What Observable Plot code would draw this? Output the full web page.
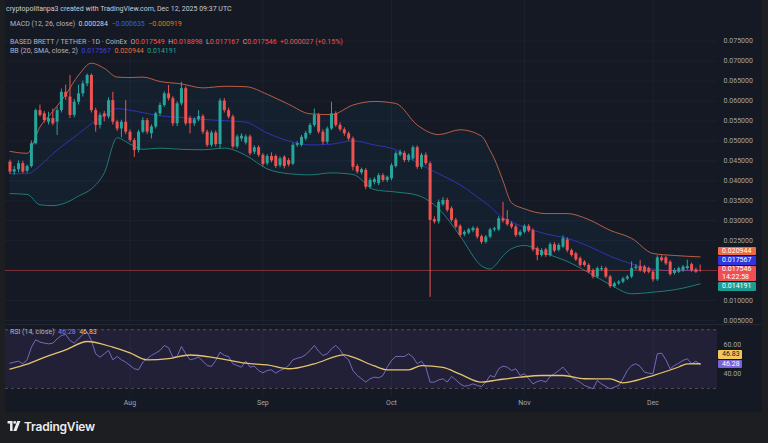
<!DOCTYPE html>
<html><head><meta charset="utf-8">
<script src="https://cdn.jsdelivr.net/npm/d3@7"></script>
<script src="https://cdn.jsdelivr.net/npm/@observablehq/plot@0.6"></script>
<style>
html,body{margin:0;padding:0;background:#1d1e22;width:768px;height:443px;overflow:hidden;font-family:Roboto,"Noto Sans",sans-serif;}
#card{position:absolute;left:5px;top:0;width:757px;height:412px;background:#151924;overflow:hidden;}
.pane{position:absolute;left:0;}
.t{position:absolute;white-space:pre;font-size:7px;line-height:9px;color:#b2b5be;}
.badge{position:absolute;font-size:7px;color:#fff;padding-left:4px;box-sizing:border-box;white-space:pre;border-radius:1px;}
#footer{position:absolute;left:7px;top:418px;height:16px;display:flex;align-items:center;gap:3px;color:#ececec;}
#footer span{font-family:Inter,Roboto,sans-serif;font-weight:600;font-size:12px;letter-spacing:-0.2px;}
</style></head>
<body>
<div id="card">
  <div id="mainPane" class="pane" style="top:0"></div>
  <div id="rsiPane" class="pane" style="top:324px"></div>
  <div class="t" style="left:1px;top:5px;color:#c9ccd4">cryptopolitanpa3 created with TradingView.com, Dec 12, 2025 09:37 UTC</div>
  <div class="t" style="left:5px;top:20px">MACD (12, 26, close)  <span style="color:#d1d4dc">0.000284</span>  <span style="color:#2962ff">−0.000635</span>  <span style="color:#ff6d00">−0.000919</span></div>
  <div class="t" style="left:5px;top:38px">BASED BRETT / TETHER · 1D · CoinEx  O<span style="color:#ef5350">0.017549</span>  H<span style="color:#ef5350">0.018898</span>  L<span style="color:#ef5350">0.017167</span>  C<span style="color:#ef5350">0.017546</span>  <span style="color:#ef5350">+0.000027 (+0.15%)</span></div>
  <div class="t" style="left:5px;top:47px">BB (20, SMA, close, 2)  <span style="color:#3b3fe0">0.017567</span>  <span style="color:#f0683f">0.020944</span>  <span style="color:#22a39a">0.014191</span></div>
  <div class="t" style="left:5px;top:328px">RSI (14, close)  <span style="color:#8f7fe0">46.28</span>  <span style="color:#e9c46a">46.83</span></div>
</div>
<div id="footer">
  <svg width="14" height="10" viewBox="0 0 36 28"><path d="M0 0h14v28H7V7H0z" fill="#ececec"/><circle cx="20" cy="4" r="4" fill="#ececec"/><path d="M27 0h9L25 28h-9z" fill="#ececec"/></svg>
  <span>TradingView</span>
</div>
<script>
// ---- Candles (daily, from 2025-07-04 to 2025-12-12) ----
const firstDay = "2025-07-04";
const opens = [0.0447,0.0422,0.0428,0.0443,0.0424,0.0436,0.0493,0.0576,0.0568,0.0547,
0.0556,0.0547,0.0576,0.0622,0.0610,0.0564,0.0597,0.0618,0.0643,0.0664,
0.0576,0.0539,0.0568,0.0560,0.0601,0.0547,0.0530,0.0547,0.0522,0.0501,
0.0476,0.0522,0.0551,0.0518,0.0535,0.0568,0.0589,0.0618,0.0606,0.0543,
0.0593,0.0631,0.0556,0.0543,0.0553,0.0561,0.0522,0.0489,0.0520,0.0491,
0.0600,0.0576,0.0560,0.0485,0.0505,0.0495,0.0510,0.0472,0.0483,0.0464,
0.0443,0.0461,0.0461,0.0438,0.0459,0.0451,0.0442,0.0489,0.0489,0.0505,
0.0519,0.0539,0.0564,0.0522,0.0497,0.0530,0.0568,0.0539,0.0528,0.0518,
0.0505,0.0436,0.0420,0.0426,0.0384,0.0396,0.0393,0.0413,0.0401,0.0405,
0.0436,0.0464,0.0469,0.0451,0.0455,0.0483,0.0434,0.0464,0.0443,0.0303,
0.0297,0.0340,0.0351,0.0330,0.0301,0.0286,0.0265,0.0269,0.0275,0.0280,
0.0260,0.0246,0.0259,0.0277,0.0277,0.0305,0.0303,0.0292,0.0284,0.0263,
0.0271,0.0286,0.0275,0.0230,0.0213,0.0227,0.0213,0.0240,0.0226,0.0234,
0.0252,0.0225,0.0217,0.0205,0.0196,0.0188,0.0175,0.0159,0.0177,0.0180,
0.0159,0.0135,0.0142,0.0146,0.0154,0.0159,0.0180,0.0185,0.0184,0.0180,
0.0171,0.0152,0.0207,0.0207,0.0196,0.0168,0.0171,0.0175,0.0180,0.0190,
0.0177,0.017549];
const highs = [0.0452,0.0436,0.0450,0.0449,0.0440,0.0500,0.0580,0.0590,0.0574,0.0572,
0.0580,0.0584,0.0630,0.0640,0.0664,0.0604,0.0640,0.0650,0.0668,0.0668,
0.0582,0.0570,0.0574,0.0608,0.0622,0.0552,0.0552,0.0601,0.0528,0.0506,
0.0527,0.0558,0.0556,0.0540,0.0572,0.0595,0.0623,0.0639,0.0611,0.0598,
0.0647,0.0636,0.0562,0.0558,0.0576,0.0566,0.0527,0.0525,0.0525,0.0606,
0.0606,0.0582,0.0565,0.0515,0.0518,0.0515,0.0515,0.0488,0.0488,0.0468,
0.0466,0.0470,0.0465,0.0460,0.0463,0.0456,0.0494,0.0498,0.0514,0.0524,
0.0544,0.0580,0.0569,0.0528,0.0535,0.0597,0.0573,0.0545,0.0533,0.0523,
0.0510,0.0441,0.0432,0.0431,0.0406,0.0408,0.0418,0.0418,0.0412,0.0443,
0.0473,0.0477,0.0474,0.0468,0.0488,0.0488,0.0469,0.0470,0.0448,0.0310,
0.0352,0.0358,0.0356,0.0335,0.0306,0.0290,0.0275,0.0281,0.0285,0.0284,
0.0264,0.0263,0.0281,0.0284,0.0310,0.0346,0.0325,0.0297,0.0289,0.0276,
0.0290,0.0290,0.0280,0.0234,0.0230,0.0231,0.0245,0.0245,0.0243,0.0262,
0.0257,0.0229,0.0221,0.0209,0.0200,0.0192,0.0179,0.0184,0.0186,0.0184,
0.0163,0.0146,0.0150,0.0158,0.0163,0.0197,0.0190,0.0200,0.0188,0.0184,
0.0175,0.0212,0.0212,0.0211,0.0200,0.0180,0.0184,0.0188,0.0201,0.0194,
0.0181,0.018898];
const lows = [0.0416,0.0414,0.0420,0.0418,0.0419,0.0432,0.0490,0.0560,0.0545,0.0540,
0.0538,0.0514,0.0570,0.0602,0.0556,0.0558,0.0590,0.0610,0.0636,0.0570,
0.0522,0.0530,0.0548,0.0555,0.0540,0.0524,0.0508,0.0516,0.0496,0.0459,
0.0470,0.0518,0.0516,0.0505,0.0530,0.0562,0.0584,0.0600,0.0536,0.0536,
0.0588,0.0538,0.0518,0.0536,0.0548,0.0516,0.0484,0.0484,0.0485,0.0480,
0.0570,0.0555,0.0480,0.0480,0.0498,0.0490,0.0463,0.0466,0.0459,0.0436,
0.0438,0.0445,0.0431,0.0433,0.0430,0.0435,0.0438,0.0484,0.0485,0.0500,
0.0514,0.0534,0.0517,0.0490,0.0492,0.0526,0.0534,0.0523,0.0512,0.0500,
0.0425,0.0417,0.0415,0.0378,0.0379,0.0390,0.0388,0.0396,0.0396,0.0400,
0.0432,0.0460,0.0446,0.0446,0.0450,0.0429,0.0429,0.0438,0.0108,0.0292,
0.0292,0.0336,0.0321,0.0296,0.0280,0.0258,0.0260,0.0265,0.0270,0.0254,
0.0241,0.0242,0.0255,0.0272,0.0273,0.0294,0.0286,0.0279,0.0258,0.0259,
0.0267,0.0270,0.0222,0.0200,0.0209,0.0208,0.0209,0.0220,0.0222,0.0230,
0.0220,0.0209,0.0198,0.0184,0.0184,0.0167,0.0154,0.0155,0.0173,0.0155,
0.0131,0.0131,0.0138,0.0142,0.0150,0.0155,0.0176,0.0171,0.0167,0.0167,
0.0146,0.0148,0.0196,0.0188,0.0161,0.0164,0.0168,0.0171,0.0176,0.0171,
0.0168,0.017167];
const closes = [0.0422,0.0428,0.0443,0.0422,0.0436,0.0493,0.0576,0.0564,0.0551,0.0556,
0.0543,0.0576,0.0622,0.0610,0.0564,0.0597,0.0618,0.0643,0.0664,0.0576,
0.0539,0.0564,0.0560,0.0601,0.0547,0.0530,0.0547,0.0522,0.0501,0.0476,
0.0522,0.0551,0.0522,0.0535,0.0568,0.0589,0.0618,0.0606,0.0543,0.0593,
0.0631,0.0543,0.0543,0.0553,0.0561,0.0522,0.0489,0.0520,0.0491,0.0600,
0.0576,0.0560,0.0485,0.0510,0.0512,0.0510,0.0468,0.0483,0.0464,0.0441,
0.0461,0.0450,0.0436,0.0455,0.0436,0.0440,0.0489,0.0493,0.0509,0.0519,
0.0539,0.0564,0.0522,0.0497,0.0530,0.0568,0.0539,0.0528,0.0518,0.0505,
0.0434,0.0422,0.0428,0.0384,0.0401,0.0403,0.0413,0.0401,0.0409,0.0438,
0.0468,0.0472,0.0451,0.0464,0.0483,0.0434,0.0464,0.0443,0.0301,0.0297,
0.0346,0.0351,0.0326,0.0301,0.0284,0.0263,0.0271,0.0277,0.0281,0.0259,
0.0246,0.0259,0.0277,0.0280,0.0305,0.0299,0.0290,0.0284,0.0263,0.0271,
0.0286,0.0274,0.0227,0.0213,0.0225,0.0213,0.0240,0.0224,0.0238,0.0255,
0.0225,0.0213,0.0202,0.0188,0.0188,0.0171,0.0159,0.0180,0.0180,0.0159,
0.0135,0.0142,0.0146,0.0154,0.0159,0.0180,0.0184,0.0175,0.0171,0.0171,
0.0152,0.0207,0.0200,0.0192,0.0165,0.0175,0.0180,0.0184,0.0185,0.0175,
0.0171,0.017546];

// ---- Bollinger Bands (20, SMA, 2), read at sample dates ----
const bbDates = ["2025-07-04","2025-07-08","2025-07-11","2025-07-14","2025-07-17","2025-07-20","2025-07-23","2025-07-26","2025-07-29","2025-08-01","2025-08-04","2025-08-08","2025-08-13","2025-08-18","2025-08-23","2025-08-28","2025-09-02","2025-09-07","2025-09-12","2025-09-17","2025-09-22","2025-09-27","2025-10-02","2025-10-07","2025-10-12","2025-10-17","2025-10-22","2025-10-24","2025-10-25","2025-10-27","2025-10-29","2025-11-01","2025-11-06","2025-11-11","2025-11-16","2025-11-21","2025-11-26","2025-12-01","2025-12-06","2025-12-12"];
const bbUpper = [0.0474,0.0469,0.0535,0.0574,0.0616,0.0665,0.0695,0.0682,0.0660,0.0659,0.0660,0.0649,0.0643,0.0633,0.0637,0.0636,0.0617,0.0592,0.0568,0.0566,0.0590,0.0599,0.0594,0.0540,0.0516,0.0528,0.0512,0.0476,0.0455,0.0400,0.0345,0.0330,0.0318,0.0318,0.0303,0.0276,0.0256,0.0218,0.0213,0.020944];
const bbBasis = [0.0418,0.0418,0.0438,0.0468,0.0494,0.0518,0.0543,0.0563,0.0581,0.0577,0.0571,0.0563,0.0559,0.0554,0.0551,0.0547,0.0520,0.0500,0.0490,0.0492,0.0500,0.0490,0.0478,0.0445,0.0418,0.0390,0.0352,0.0336,0.0325,0.0307,0.0297,0.0284,0.0267,0.0256,0.0236,0.0211,0.0192,0.0179,0.0175,0.017567];
const bbLower = [0.0368,0.0366,0.0340,0.0338,0.0345,0.0362,0.0380,0.0420,0.0508,0.0492,0.0479,0.0482,0.0479,0.0478,0.0482,0.0464,0.0430,0.0418,0.0415,0.0420,0.0416,0.0378,0.0372,0.0364,0.0330,0.0262,0.0187,0.0179,0.0186,0.0212,0.0230,0.0238,0.0218,0.0198,0.0170,0.0140,0.0117,0.0121,0.0127,0.014191];

// ---- RSI (14) per candle, and its moving average ----
const rsiValues = [47.2,47.9,48.6,46.8,49.5,58.1,63.2,61.6,60.9,60.4,
60.9,63.8,66.1,66.8,62.7,60.9,63.8,66.8,68.4,62.7,
53.6,51.3,53.6,55.9,49.5,51.8,49.5,47.9,45.6,43.4,
42.7,47.9,50.2,52.5,54.1,55.9,59.3,57.7,51.3,51.8,
58.6,53.6,49.5,50.2,51.3,48.6,45.6,45.0,49.1,54.7,
52.5,51.8,46.8,45.6,44.5,48.6,44.5,45.2,42.2,40.6,
42.2,42.7,40.4,42.2,43.4,45.6,49.5,50.6,51.3,53.1,
55.9,59.3,55.4,52.5,53.6,57.0,59.3,56.3,51.8,49.5,
42.2,38.8,36.6,34.3,36.6,37.7,37.2,38.8,44.5,49.1,
51.8,51.8,51.8,53.6,51.3,46.8,48.6,44.5,34.3,34.3,
35.8,36.6,34.3,38.2,35.8,33.1,31.5,32.0,33.1,32.0,
31.3,34.3,38.8,37.7,43.4,45.2,44.5,42.2,43.4,38.8,
40.0,36.6,33.1,34.7,35.4,34.3,38.2,40.0,42.2,44.5,
41.1,37.7,35.8,34.3,32.0,30.9,29.7,35.4,33.1,31.3,
29.7,30.9,32.0,36.6,42.2,45.6,46.8,45.0,41.1,40.4,
40.0,53.6,54.1,49.5,43.4,45.6,47.2,49.1,50.2,46.8,
48.6,46.28];
const rsiMaDates = ["2025-07-04","2025-07-08","2025-07-12","2025-07-17","2025-07-22","2025-07-28","2025-08-01","2025-08-05","2025-08-10","2025-08-15","2025-08-21","2025-08-28","2025-09-02","2025-09-07","2025-09-13","2025-09-20","2025-09-22","2025-09-27","2025-09-30","2025-10-05","2025-10-08","2025-10-13","2025-10-17","2025-10-22","2025-10-26","2025-10-31","2025-11-05","2025-11-10","2025-11-15","2025-11-21","2025-11-24","2025-11-27","2025-12-01","2025-12-07","2025-12-09","2025-12-12"];
const rsiMaValues = [43.1,46.5,51.2,56.3,62.0,58.1,54.2,49.5,50.3,52.8,50.9,47.2,46.0,43.4,46.8,52.9,51.3,45.3,42.7,42.7,45.6,44.3,39.7,34.3,35.9,37.7,38.8,38.8,36.6,36.5,33.8,35.4,38.8,44.6,46.8,46.83];
const rsiLevels = [30, 70];
const rsiTicks = [40, 60];

// ---- Axis ticks ----
const priceTicks = [0.005,0.010,0.025,0.030,0.035,0.040,0.045,0.050,0.055,0.060,0.065,0.070,0.075];
const monthTicks = ["2025-08-01","2025-09-01","2025-10-01","2025-11-01","2025-12-01"];
const monthLabels = ["Aug","Sep","Oct","Nov","Dec"];

// ---- Build tables ----
const day0 = new Date(firstDay + "T00:00:00Z");
const candles = closes.map((c, i) => ({date: d3.utcDay.offset(day0, i), o: opens[i], h: highs[i], l: lows[i], c, up: c >= opens[i]}));
const bb = bbDates.map((d, i) => ({date: new Date(d + "T00:00:00Z"), upper: bbUpper[i], basis: bbBasis[i], lower: bbLower[i]}));
const rsi = rsiValues.map((v, i) => ({date: candles[i].date, v}));
const rsiMa = rsiMaDates.map((d, i) => ({date: new Date(d + "T00:00:00Z"), v: rsiMaValues[i]}));
const months = monthTicks.map(d => new Date(d + "T00:00:00Z"));
const monthName = new Map(months.map((d, i) => [+d, monthLabels[i]]));
const last = candles[candles.length - 1];

const UP = "#26a69a", DOWN = "#ef5350";
const C_UPPER = "#e8704a", C_BASIS = "#3438d4", C_LOWER = "#1f9c90";
const C_RSI = "#8a7ad8", C_RSIMA = "#e6c46c";
const aug1 = Date.UTC(2025, 7, 1), DAY = 864e5;
const xDomain = [new Date(aug1 - 29.04 * DAY), new Date(aug1 + 137.04 * DAY)];
const W = 757, MR = 45;
const baseStyle = {background: "transparent", color: "#a3a6af", fontSize: "7px", fontFamily: "Roboto, sans-serif"};

const main = Plot.plot({
  width: W, height: 324, marginLeft: 0, marginRight: MR, marginTop: 0, marginBottom: 0,
  style: baseStyle,
  x: {type: "utc", domain: xDomain, axis: null},
  y: {domain: [0.0040, 0.0852], axis: null},
  marks: [
    Plot.ruleY(priceTicks, {stroke: "#1c2130", strokeWidth: 1}),
    Plot.ruleX(months, {stroke: "#1c2130", strokeWidth: 1}),
    Plot.areaY(bb, {x: "date", y1: "lower", y2: "upper", fill: "#2196f3", fillOpacity: 0.06, curve: "monotone-x"}),
    Plot.line(bb, {x: "date", y: "upper", stroke: C_UPPER, strokeWidth: 0.9, strokeOpacity: 0.85, curve: "monotone-x"}),
    Plot.line(bb, {x: "date", y: "basis", stroke: C_BASIS, strokeWidth: 0.9, strokeOpacity: 0.9, curve: "monotone-x"}),
    Plot.line(bb, {x: "date", y: "lower", stroke: C_LOWER, strokeWidth: 0.9, strokeOpacity: 0.85, curve: "monotone-x"}),
    Plot.ruleY([last.c], {stroke: DOWN, strokeOpacity: 0.6, strokeWidth: 0.8}),
    Plot.ruleX(candles, {x: "date", y1: "l", y2: "h", stroke: d => d.up ? UP : DOWN, strokeWidth: 1}),
    Plot.ruleX(candles, {x: "date", y1: "o", y2: "c", stroke: d => d.up ? UP : DOWN, strokeWidth: 3, strokeLinecap: "butt"}),
    Plot.axisY(priceTicks, {anchor: "right", tickSize: 0, tickPadding: 6, tickFormat: d3.format(".6f"), fill: "#a3a6af", fontSize: 7, label: null})
  ]
});
document.getElementById("mainPane").appendChild(main);

const rsiPlot = Plot.plot({
  width: W, height: 88, marginLeft: 0, marginRight: MR, marginTop: 0, marginBottom: 15,
  style: baseStyle,
  x: {type: "utc", domain: xDomain},
  y: {domain: [23.8, 73.6], axis: null},
  marks: [
    Plot.ruleX(months, {stroke: "#1c2130", strokeWidth: 1}),
    Plot.rect([rsiLevels], {x1: () => xDomain[0], x2: () => xDomain[1], y1: d => d[0], y2: d => d[1], fill: "#7e57c2", fillOpacity: 0.12}),
    Plot.ruleY(rsiLevels, {stroke: "#787b86", strokeOpacity: 0.7, strokeDasharray: "3,3", strokeWidth: 0.8}),
    Plot.line(rsi, {x: "date", y: "v", stroke: C_RSI, strokeWidth: 0.9, strokeOpacity: 0.9}),
    Plot.line(rsiMa, {x: "date", y: "v", stroke: C_RSIMA, strokeWidth: 1.3, curve: "monotone-x"}),
    Plot.axisX(months, {tickSize: 0, tickPadding: 3, tickFormat: d => monthName.get(+d), fill: "#a3a6af", fontSize: 7, label: null}),
    Plot.axisY(rsiTicks, {anchor: "right", tickSize: 0, tickPadding: 6, tickFormat: d3.format(".2f"), fill: "#a3a6af", fontSize: 7, label: null})
  ]
});
document.getElementById("rsiPane").appendChild(rsiPlot);

// separator between panes
const sep = document.createElement("div");
sep.style.cssText = "position:absolute;left:0;top:324px;width:757px;height:1px;background:#222634";
document.getElementById("card").appendChild(sep);

// ---- Price-scale badges (anchor item at its value, others stacked away) ----
function badges(plot, paneTop, items, anchorIdx, width) {
  const sy = plot.scale("y");
  const gap = 1;
  const list = items.map(d => ({...d, h: d.sub ? 15.5 : 8.5, cy: sy.apply(d.v)}));
  const a = list[anchorIdx];
  a.top = a.cy - 4.25;
  let lim = a.top - gap;
  list.filter(d => d !== a && d.v >= a.v).sort((p, q) => p.v - q.v).forEach(d => {
    d.top = Math.min(d.cy - d.h / 2, lim - d.h); lim = d.top - gap;
  });
  let lim2 = a.top + a.h + gap;
  list.filter(d => d !== a && d.v < a.v).sort((p, q) => q.v - p.v).forEach(d => {
    d.top = Math.max(d.cy - d.h / 2, lim2); lim2 = d.top + d.h + gap;
  });
  const card = document.getElementById("card");
  list.forEach(d => {
    const el = document.createElement("div");
    el.className = "badge";
    el.style.left = (W - MR + 1) + "px";
    el.style.top = (paneTop + d.top) + "px";
    el.style.width = width + "px";
    el.style.height = d.h + "px";
    el.style.lineHeight = d.sub ? "7.6px" : d.h + "px";
    el.style.paddingTop = d.sub ? "0.5px" : "0";
    el.style.background = d.bg;
    el.style.color = d.fg || "#fff";
    el.textContent = d.text + (d.sub ? "\n" + d.sub : "");
    card.appendChild(el);
  });
}
badges(main, 0, [
  {v: bbUpper[bbUpper.length - 1], text: d3.format(".6f")(bbUpper[bbUpper.length - 1]), bg: "#f0683f"},
  {v: bbBasis[bbBasis.length - 1], text: d3.format(".6f")(bbBasis[bbBasis.length - 1]), bg: "#2f35d8"},
  {v: last.c, text: d3.format(".6f")(last.c), sub: "14:22:58", bg: "#ef4e56"},
  {v: bbLower[bbLower.length - 1], text: d3.format(".6f")(bbLower[bbLower.length - 1]), bg: "#1d9c94"}
], 2, 38);
badges(rsiPlot, 324, [
  {v: rsiMaValues[rsiMaValues.length - 1], text: rsiMaValues[rsiMaValues.length - 1].toFixed(2), bg: "#f0c85c", fg: "#131722"},
  {v: rsiValues[rsiValues.length - 1], text: rsiValues[rsiValues.length - 1].toFixed(2), bg: "#7b62d6"}
], 1, 24);
</script>
</body></html>
